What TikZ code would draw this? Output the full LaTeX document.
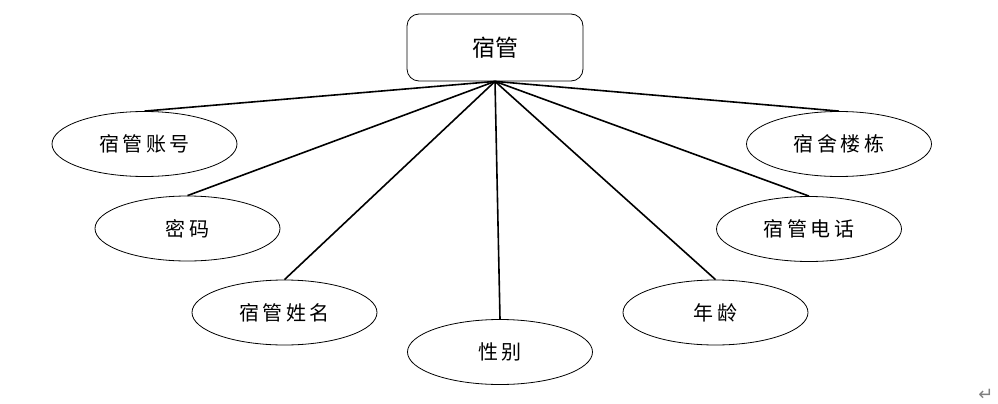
\documentclass[tikz,border=0pt]{standalone}
\usepackage{fontspec}
\setmainfont{Noto Sans CJK SC}
\newfontfamily\symfont{DejaVu Sans}
\usetikzlibrary{shapes.geometric}
\begin{document}
\begin{tikzpicture}[x=1pt,y=-1pt,
  attr/.style={ellipse,draw,line width=0.8pt,minimum width=185pt,minimum height=65pt,inner sep=0pt,
    font=\fontsize{20}{20}\selectfont\addfontfeatures{LetterSpace=18}},
  ent/.style={rectangle,rounded corners=12pt,draw,line width=0.8pt,minimum width=176pt,minimum height=67pt,
    font=\fontsize{23}{23}\selectfont},
  link/.style={line width=1.6pt}]
\useasboundingbox (0,0) rectangle (998,404);
\node[ent] (e) at (495,47.5) {宿管};
\node[attr] (a1) at (144.5,144) {宿管账号};
\node[attr] (a2) at (187.5,228.5) {密码};
\node[attr] (a3) at (284.5,312.5) {宿管姓名};
\node[attr] (a4) at (500,352) {性别};
\node[attr] (a5) at (715.5,312.5) {年龄};
\node[attr] (a6) at (809,229) {宿管电话};
\node[attr] (a7) at (839,144) {宿舍楼栋};
\foreach \n in {a1,a2,a3,a4,a5,a6,a7}
  \draw[link] (e.south) -- (\n.north);
\node[text=gray,font=\symfont\fontsize{18}{18}\selectfont] (ret) at (986,395) {↵};
\end{tikzpicture}
\end{document}
